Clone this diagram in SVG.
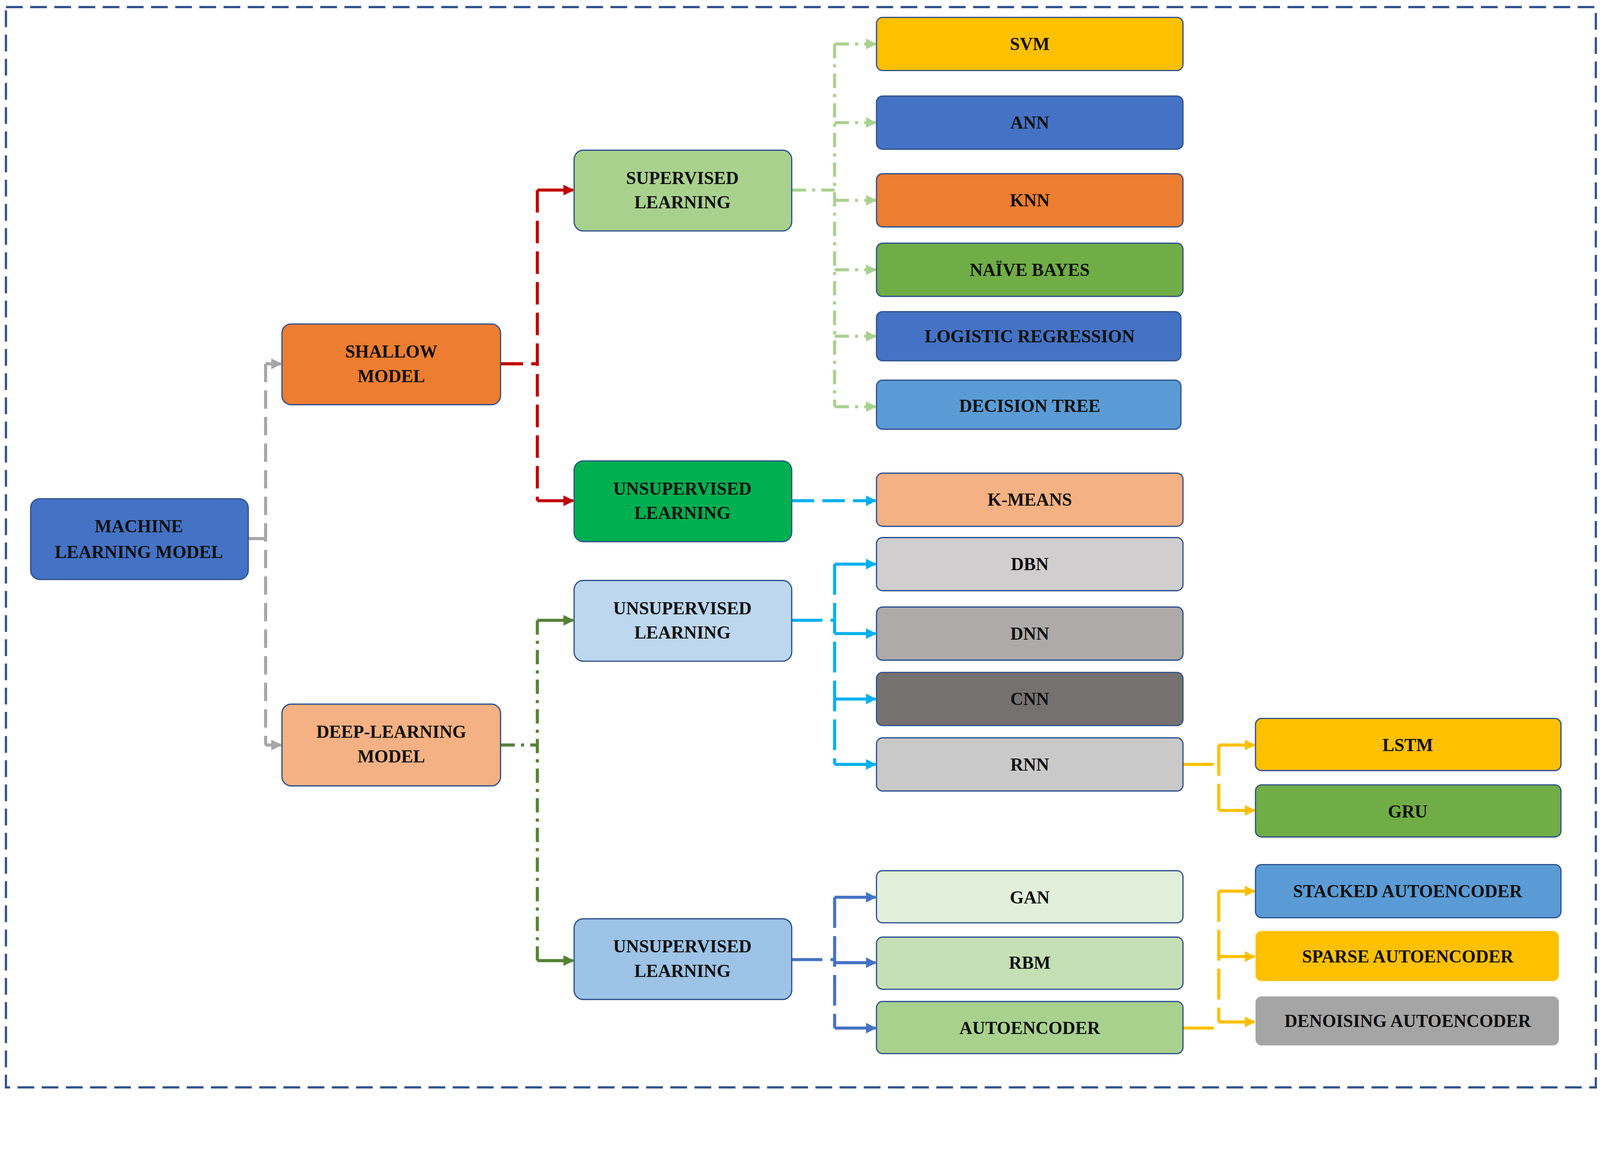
<svg xmlns="http://www.w3.org/2000/svg" width="4306" height="2948" viewBox="0 0 4306 2948">
<defs>
<style>
.n{stroke:#2F528F;stroke-width:1.2}
.t{font-family:"Liberation Serif",serif;font-weight:bold;font-size:17.5px;fill:#111;text-anchor:middle;dominant-baseline:central}
.c{fill:none;stroke-width:3}
</style>
<marker id="mg" viewBox="0 0 10 10" refX="9" refY="5" markerWidth="3.5" markerHeight="3.5" orient="auto"><path d="M0,0L10,5L0,10z" fill="#A6A6A6"/></marker>
<marker id="mr" viewBox="0 0 10 10" refX="9" refY="5" markerWidth="3.5" markerHeight="3.5" orient="auto"><path d="M0,0L10,5L0,10z" fill="#C00000"/></marker>
<marker id="mdg" viewBox="0 0 10 10" refX="9" refY="5" markerWidth="3.5" markerHeight="3.5" orient="auto"><path d="M0,0L10,5L0,10z" fill="#548235"/></marker>
<marker id="mlg" viewBox="0 0 10 10" refX="9" refY="5" markerWidth="3.5" markerHeight="3.5" orient="auto"><path d="M0,0L10,5L0,10z" fill="#A9D18E"/></marker>
<marker id="mc" viewBox="0 0 10 10" refX="9" refY="5" markerWidth="3.5" markerHeight="3.5" orient="auto"><path d="M0,0L10,5L0,10z" fill="#00B0F0"/></marker>
<marker id="mb" viewBox="0 0 10 10" refX="9" refY="5" markerWidth="3.5" markerHeight="3.5" orient="auto"><path d="M0,0L10,5L0,10z" fill="#4472C4"/></marker>
<marker id="my" viewBox="0 0 10 10" refX="9" refY="5" markerWidth="3.5" markerHeight="3.5" orient="auto"><path d="M0,0L10,5L0,10z" fill="#FFC000"/></marker>
</defs>
<rect width="4306" height="2948" fill="#fff"/>
<g transform="scale(0.9523)">
<rect x="16" y="19" width="4274" height="2903" fill="none" stroke="#2F528F" stroke-width="6" stroke-dasharray="45,20"/>
<g transform="scale(2.7462)">
<g id="connectors">
<path class="c" stroke="#A6A6A6" stroke-dasharray="18,8" d="M243,527H260M260,356V729"/>
<path class="c" stroke="#A6A6A6" stroke-dasharray="18,8" marker-end="url(#mg)" d="M260,356H275"/>
<path class="c" stroke="#A6A6A6" marker-end="url(#mg)" d="M260,729H275"/>
<path class="c" stroke="#C00000" stroke-dasharray="22,8" d="M490,356H526M526,186V490"/>
<path class="c" stroke="#C00000" marker-end="url(#mr)" d="M526,186H561"/>
<path class="c" stroke="#C00000" marker-end="url(#mr)" d="M526,490H561"/>
<path class="c" stroke="#548235" stroke-dasharray="14,6,3,6" d="M490,729H526M526,607V940"/>
<path class="c" stroke="#548235" marker-end="url(#mdg)" d="M526,607H561"/>
<path class="c" stroke="#548235" marker-end="url(#mdg)" d="M526,940H561"/>
<path class="c" stroke="#A9D18E" stroke-dasharray="14,6,3,6" d="M775,186H817M817,43V398"/>
<g stroke-dasharray="14,6,3,6">
<path class="c" stroke="#A9D18E" marker-end="url(#mlg)" d="M817,43H857"/>
<path class="c" stroke="#A9D18E" marker-end="url(#mlg)" d="M817,120H857"/>
<path class="c" stroke="#A9D18E" marker-end="url(#mlg)" d="M817,196H857"/>
<path class="c" stroke="#A9D18E" marker-end="url(#mlg)" d="M817,264H857"/>
<path class="c" stroke="#A9D18E" marker-end="url(#mlg)" d="M817,329H857"/>
<path class="c" stroke="#A9D18E" marker-end="url(#mlg)" d="M817,398H857"/>
</g>
<path class="c" stroke="#00B0F0" stroke-dasharray="22,8" marker-end="url(#mc)" d="M775,490H857"/>
<path class="c" stroke="#00B0F0" stroke-dasharray="30,8" d="M775,607H817M817,552V748"/>
<path class="c" stroke="#00B0F0" marker-end="url(#mc)" d="M817,552H857"/>
<path class="c" stroke="#00B0F0" marker-end="url(#mc)" d="M817,620H857"/>
<path class="c" stroke="#00B0F0" marker-end="url(#mc)" d="M817,684H857"/>
<path class="c" stroke="#00B0F0" marker-end="url(#mc)" d="M817,748H857"/>
<path class="c" stroke="#4472C4" stroke-dasharray="30,8" d="M775,939H817M817,878V1006"/>
<path class="c" stroke="#4472C4" marker-end="url(#mb)" d="M817,878H857"/>
<path class="c" stroke="#4472C4" marker-end="url(#mb)" d="M817,942H857"/>
<path class="c" stroke="#4472C4" marker-end="url(#mb)" d="M817,1006H857"/>
<path class="c" stroke="#FFC000" stroke-dasharray="30,8" d="M1158,748H1193M1193,729V793"/>
<path class="c" stroke="#FFC000" marker-end="url(#my)" d="M1193,729H1228"/>
<path class="c" stroke="#FFC000" marker-end="url(#my)" d="M1193,793H1228"/>
<path class="c" stroke="#FFC000" stroke-dasharray="30,8" d="M1158,1006H1193M1193,872V1000"/>
<path class="c" stroke="#FFC000" marker-end="url(#my)" d="M1193,872H1228"/>
<path class="c" stroke="#FFC000" marker-end="url(#my)" d="M1193,936H1228"/>
<path class="c" stroke="#FFC000" marker-end="url(#my)" d="M1193,1000H1228"/>
</g>
<g id="ml"><rect class="n" x="30" y="488" width="213" height="79" rx="9" fill="#4472C4"/><text class="t" x="136" y="515">MACHINE</text><text class="t" x="136" y="540">LEARNING MODEL</text></g>
<g id="shallow"><rect class="n" x="276" y="317" width="214" height="79" rx="9" fill="#ED7D31"/><text class="t" x="383" y="344">SHALLOW</text><text class="t" x="383" y="368">MODEL</text></g>
<g id="deep"><rect class="n" x="276" y="689" width="214" height="80" rx="9" fill="#F4B183"/><text class="t" x="383" y="716">DEEP-LEARNING</text><text class="t" x="383" y="740">MODEL</text></g>
<g id="sup"><rect class="n" x="562" y="147" width="213" height="79" rx="9" fill="#A9D18E"/><text class="t" x="668" y="174">SUPERVISED</text><text class="t" x="668" y="198">LEARNING</text></g>
<g id="unsup1"><rect class="n" x="562" y="451" width="213" height="79" rx="9" fill="#00B050"/><text class="t" x="668" y="478">UNSUPERVISED</text><text class="t" x="668" y="502">LEARNING</text></g>
<g id="unsup2"><rect class="n" x="562" y="568" width="213" height="79" rx="9" fill="#BDD7EE"/><text class="t" x="668" y="595">UNSUPERVISED</text><text class="t" x="668" y="619">LEARNING</text></g>
<g id="unsup3"><rect class="n" x="562" y="899" width="213" height="79" rx="9" fill="#9DC3E6"/><text class="t" x="668" y="926">UNSUPERVISED</text><text class="t" x="668" y="950">LEARNING</text></g>
<g id="svm"><rect class="n" x="858" y="17" width="300" height="52" rx="6" fill="#FFC000"/><text class="t" x="1008" y="43">SVM</text></g>
<g id="ann"><rect class="n" x="858" y="94" width="300" height="52" rx="6" fill="#4472C4"/><text class="t" x="1008" y="120">ANN</text></g>
<g id="knn"><rect class="n" x="858" y="170" width="300" height="52" rx="6" fill="#ED7D31"/><text class="t" x="1008" y="196">KNN</text></g>
<g id="nb"><rect class="n" x="858" y="238" width="300" height="52" rx="6" fill="#70AD47"/><text class="t" x="1008" y="264">NAÏVE BAYES</text></g>
<g id="lr"><rect class="n" x="858" y="305" width="298" height="48" rx="6" fill="#4472C4"/><text class="t" x="1008" y="329">LOGISTIC REGRESSION</text></g>
<g id="dt"><rect class="n" x="858" y="372" width="298" height="48" rx="6" fill="#5B9BD5"/><text class="t" x="1008" y="397">DECISION TREE</text></g>
<g id="km"><rect class="n" x="858" y="463" width="300" height="52" rx="6" fill="#F4B183"/><text class="t" x="1008" y="489">K-MEANS</text></g>
<g id="dbn"><rect class="n" x="858" y="526" width="300" height="52" rx="6" fill="#D0CECE"/><text class="t" x="1008" y="552">DBN</text></g>
<g id="dnn"><rect class="n" x="858" y="594" width="300" height="52" rx="6" fill="#AEAAAA"/><text class="t" x="1008" y="620">DNN</text></g>
<g id="cnn"><rect class="n" x="858" y="658" width="300" height="52" rx="6" fill="#767171"/><text class="t" x="1008" y="684">CNN</text></g>
<g id="rnn"><rect class="n" x="858" y="722" width="300" height="52" rx="6" fill="#C9C9C9"/><text class="t" x="1008" y="748">RNN</text></g>
<g id="gan"><rect class="n" x="858" y="852" width="300" height="51" rx="6" fill="#E2EFDA"/><text class="t" x="1008" y="878">GAN</text></g>
<g id="rbm"><rect class="n" x="858" y="917" width="300" height="51" rx="6" fill="#C5E0B4"/><text class="t" x="1008" y="942">RBM</text></g>
<g id="ae"><rect class="n" x="858" y="980" width="300" height="51" rx="6" fill="#A9D18E"/><text class="t" x="1008" y="1006">AUTOENCODER</text></g>
<g id="lstm"><rect class="n" x="1229" y="703" width="299" height="51" rx="6" fill="#FFC000"/><text class="t" x="1378" y="729">LSTM</text></g>
<g id="gru"><rect class="n" x="1229" y="768" width="299" height="51" rx="6" fill="#70AD47"/><text class="t" x="1378" y="794">GRU</text></g>
<g id="sae"><rect class="n" x="1229" y="846" width="299" height="52" rx="6" fill="#5B9BD5"/><text class="t" x="1378" y="872">STACKED AUTOENCODER</text></g>
<g id="spae"><rect x="1229" y="911" width="297" height="49" rx="6" fill="#FFC000"/><text class="t" x="1378" y="936">SPARSE AUTOENCODER</text></g>
<g id="dae"><rect x="1229" y="975" width="297" height="48" rx="6" fill="#A5A5A5"/><text class="t" x="1378" y="999">DENOISING AUTOENCODER</text></g>
</g>
</g>
</svg>
